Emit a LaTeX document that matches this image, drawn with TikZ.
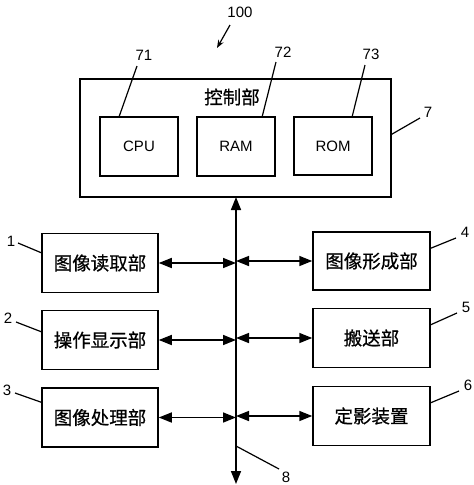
\documentclass[tikz,border=0pt]{standalone}
\usepackage{fontspec}
\setmainfont{Liberation Sans}
\newfontfamily\cjk[FakeBold=0.6]{Noto Sans CJK SC}
\usetikzlibrary{arrows.meta,calc}
\begin{document}
\begin{tikzpicture}[x=1pt,y=-1pt,
  box/.style={draw, rectangle, inner sep=0pt, line width=1.5pt},
  lbl/.style={font=\fontsize{15}{15}\selectfont, inner sep=0pt},
  zh/.style={font=\cjk\fontsize{18.5}{18.5}\selectfont, inner sep=0pt},
  tip/.tip={Triangle[length=13pt,width=10pt]},
  arr/.style={tip-tip, line width=1.5pt},
  lead/.style={line width=1.2pt}]
\useasboundingbox (0,0) rectangle (474,485);
% reference label 100
\node[lbl] (n100) at (240,12) {100};
\coordinate (a100s) at (230,25);
\coordinate (a100e) at (217,48);
\draw[lead, -{Stealth[length=8pt,width=6pt]}] (a100s) -- (a100e);
% control unit
\node[box, minimum width=311pt, minimum height=118pt] (ctrl) at (235.5,138) {};
\node[zh] (ctrlt) at (232,97) {控制部};
\node[box, lbl, minimum width=78pt, minimum height=59pt] (cpu) at (139,146.5) {CPU};
\node[box, lbl, minimum width=78pt, minimum height=59pt] (ram) at (236,146.5) {RAM};
\node[box, lbl, minimum width=78pt, minimum height=58pt] (rom) at (333,146) {ROM};
\node[lbl] (n71) at (144,55) {71};
\node[lbl] (n72) at (283,52) {72};
\node[lbl] (n73) at (371,54) {73};
\node[lbl] (n7) at (428,112) {7};
\coordinate (c71) at (137,66);
\coordinate (c72) at (276,62);
\coordinate (c73) at (365,65);
\coordinate (c7) at (420,118);
\draw[lead] (c71) -- ($(cpu.north west)+(20,0)$);
\draw[lead] (c72) -- ($(ram.north west)+(66,0)$);
\draw[lead] (c73) -- ($(rom.north west)+(59,0)$);
\draw[lead] (c7) -- ($(ctrl.north east)+(0,56)$);
% units
\node[box, zh, minimum width=116pt, minimum height=59pt] (u1) at (100,263) {图像读取部};
\node[box, zh, minimum width=116pt, minimum height=59pt] (u2) at (100,340) {操作显示部};
\node[box, zh, minimum width=116pt, minimum height=59pt] (u3) at (100,417.5) {图像处理部};
\node[box, zh, minimum width=117pt, minimum height=58pt] (u4) at (371.5,261) {图像形成部};
\node[box, zh, minimum width=117pt, minimum height=59pt] (u5) at (371.5,338) {搬送部};
\node[box, zh, minimum width=117pt, minimum height=59pt] (u6) at (371.5,416) {定影装置};
% bus
\coordinate (bt) at (236,197);
\coordinate (bb) at (236,484);
\draw[arr] (bt) -- (bb);
\foreach \u in {u1,u2,u3}{\draw[arr] (\u.east) -- (\u.east -| bt);}
\foreach \u in {u4,u5,u6}{\draw[arr] (\u.west -| bt) -- (\u.west);}
% unit labels
\node[lbl] (n1) at (11,241) {1};
\node[lbl] (n2) at (8,318) {2};
\node[lbl] (n3) at (7,390) {3};
\node[lbl] (n4) at (465,232) {4};
\node[lbl] (n5) at (466,307) {5};
\node[lbl] (n6) at (468,385) {6};
\node[lbl] (n8) at (286,477) {8};
\coordinate (c1) at (18,243);
\coordinate (c2) at (16,322);
\coordinate (c3) at (15,393);
\coordinate (c4) at (456,238);
\coordinate (c5) at (457,313);
\coordinate (c6) at (459,391);
\coordinate (c8) at (279,469);
\draw[lead] (c1) -- ($(u1.north west)+(0,20)$);
\draw[lead] (c2) -- ($(u2.north west)+(0,22)$);
\draw[lead] (c3) -- ($(u3.north west)+(0,15)$);
\draw[lead] (c4) -- ($(u4.north east)+(0,17)$);
\draw[lead] (c5) -- ($(u5.north east)+(0,17)$);
\draw[lead] (c6) -- ($(u6.north east)+(0,17)$);
\draw[lead] (c8) -- (236,446);
\end{tikzpicture}
\end{document}
